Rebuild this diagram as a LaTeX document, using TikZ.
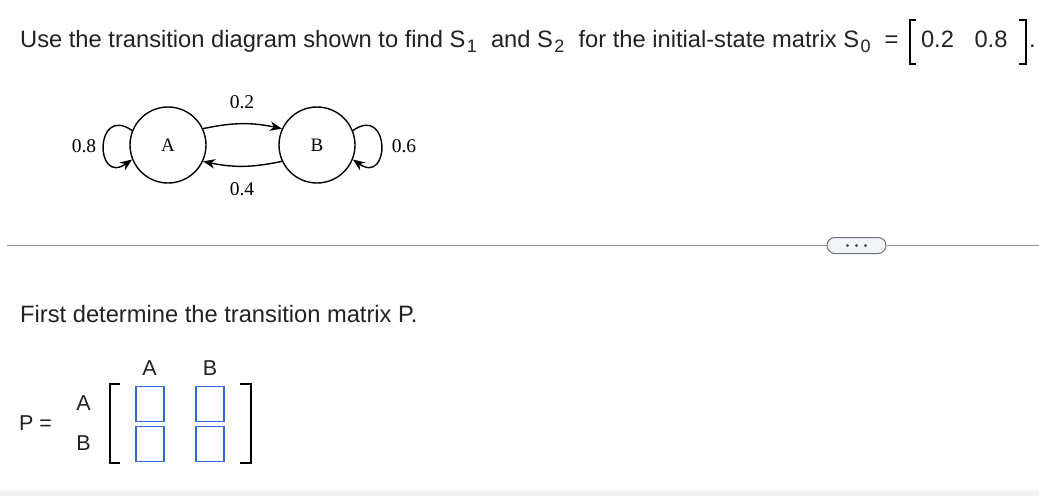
\documentclass[tikz,border=0pt]{standalone}
\usepackage{fontspec}
\setmainfont{Liberation Sans}
\newfontfamily\dgmfont{Liberation Serif}
\usetikzlibrary{arrows.meta,positioning,calc}
\definecolor{txtgray}{HTML}{222222}
\definecolor{rulegray}{HTML}{8A93A6}
\definecolor{pillfill}{HTML}{F3F4F6}
\definecolor{pilldraw}{HTML}{6B7280}
\definecolor{ansblue}{HTML}{2F67D4}
\definecolor{bandgray}{HTML}{F2F2F2}
\newcommand{\lowsub}[1]{\hspace{1.5pt}\raisebox{-5pt}{\fontsize{18}{18}\selectfont #1}\hspace{7.5pt}}
\tikzset{
  qtext/.style={text=txtgray, inner sep=0pt, font=\fontsize{23.7}{28}\selectfont},
  state/.style={circle, draw, line width=1.4pt, minimum size=76pt, inner sep=0pt, font=\dgmfont\fontsize{19}{19}\selectfont},
  prob/.style={inner sep=0pt, font=\dgmfont\fontsize{19.5}{19}\selectfont},
  arr/.style={line width=1.4pt, -{Stealth[length=12pt,width=9.5pt]}},
  brk/.style={line width=1.4pt, black},
  ansbox/.style={draw=ansblue, line width=1.4pt, minimum width=28pt, minimum height=35.5pt, inner sep=0pt},
  lbl/.style={inner sep=0pt, text=txtgray, font=\fontsize{21.5}{21}\selectfont}
}
\begin{document}
\begin{tikzpicture}[x=1pt,y=1pt]
  % Fixed bounding box
  \path[use as bounding box] (0,0) rectangle (1039,-496);
  \fill[white] (0,0) rectangle (1039,-496);
  \fill[bandgray] (0,-490) rectangle (1039,-496);

  % Question line
  \node[qtext, anchor=base west] (question) at (20,-47)
    {Use the transition diagram shown to find S\lowsub{1} and S\lowsub{2} for the initial-state matrix S\lowsub{0} =};
  \node[qtext, anchor=base] (sa) at (937.5,-47) {0.2};
  \node[qtext, anchor=base] (sb) at (991,-47) {0.8};
  \draw[brk] (916,-20) -- (910,-20) -- (910,-64) -- (916,-64);
  \draw[brk] (1019,-20) -- (1026,-20) -- (1026,-64) -- (1019,-64);
  \node[qtext, anchor=base west] (dot) at (1029,-47) {.};

  % Transition diagram
  \node[state] (A) at (168,-145) {A};
  \node[state] (B) at (317,-145) {B};
  \draw[arr] (A.25) to[bend left=12] (B.155);
  \draw[arr] (B.-155) to[bend left=12] (A.-25);
  \draw[arr] (A.158) .. controls +(145:46) and +(215:46) .. (A.202);
  \draw[arr] (B.22) .. controls +(35:46) and +(-35:46) .. (B.-22);
  \node[prob] (pAA) at (84,-146) {0.8};
  \node[prob] (pBB) at (404,-146) {0.6};
  \node[prob] (pAB) at (242,-102) {0.2};
  \node[prob] (pBA) at (242,-189) {0.4};

  % Separator with pill
  \coordinate (ruleL) at (7,-245.5);
  \coordinate (ruleR) at (1039,-245.5);
  \node[draw=pilldraw, fill=pillfill, rounded corners=8pt, line width=1pt, minimum width=59pt, minimum height=16pt, inner sep=0pt] (pill) at (856.5,-245.5) {};
  \draw[rulegray, line width=1.2pt] (ruleL) -- (pill.west);
  \draw[rulegray, line width=1.2pt] (pill.east) -- (ruleR);
  \foreach \dx in {-9,0,9} \fill[pilldraw!70!black] ($(pill.center)+(\dx,0)$) circle (1.7pt);

  % Transition matrix prompt
  \node[qtext, anchor=base west] (prompt) at (20,-322) {First determine the transition matrix P.};

  \node[lbl, anchor=west] (Peq) at (19,-423.5) {P =};
  \node[lbl] (colA) at (149.5,-368.5) {A};
  \node[lbl] (colB) at (210,-368.5) {B};
  \node[lbl] (rowA) at (83.5,-403.5) {A};
  \node[lbl] (rowB) at (83.5,-443.5) {B};
  \draw[brk] (120,-384) -- (110,-384) -- (110,-463) -- (120,-463);
  \draw[brk] (240,-384) -- (251,-384) -- (251,-463) -- (240,-463);
  \node[ansbox] (pAAbox) at (150,-404) {};
  \node[ansbox] (pABbox) at (210,-404) {};
  \node[ansbox] (pBAbox) at (150,-444) {};
  \node[ansbox] (pBBbox) at (210,-444) {};
\end{tikzpicture}
\end{document}
